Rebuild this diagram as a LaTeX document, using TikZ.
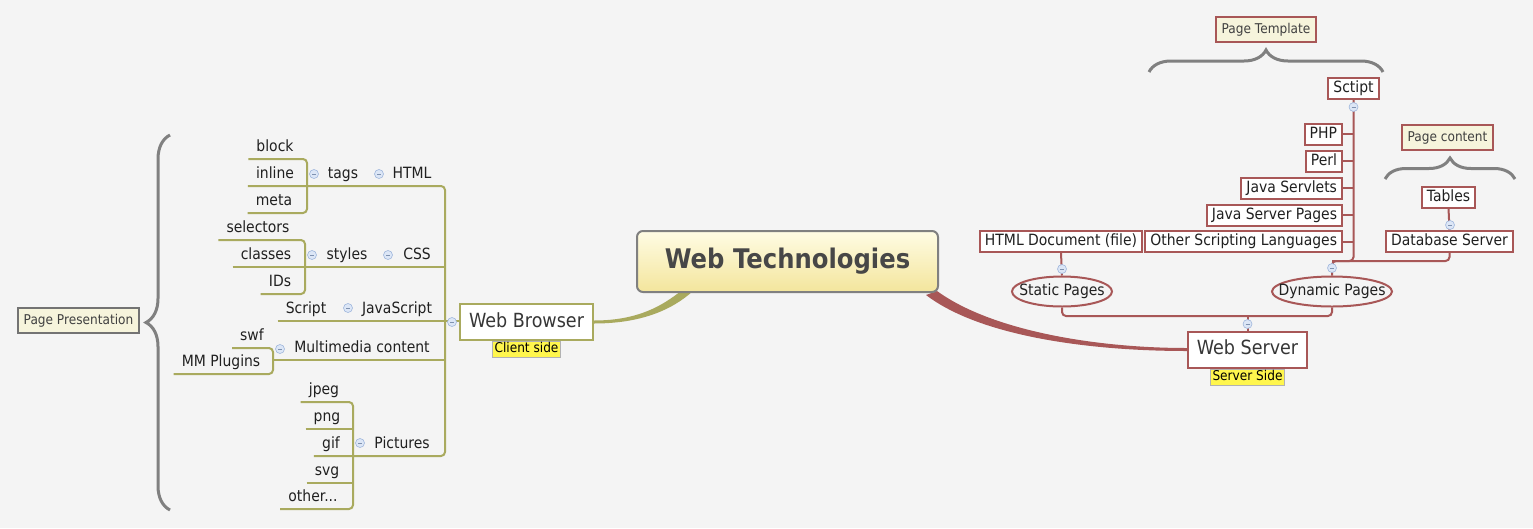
\documentclass[tikz,border=0pt]{standalone}
\usepackage{fontspec}
\setmainfont[FakeStretch=0.9]{DejaVu Sans}
\usetikzlibrary{positioning,calc,shapes.geometric,decorations.pathreplacing,backgrounds}
\definecolor{bgc}{HTML}{F4F4F4}
\definecolor{oliv}{HTML}{A9AA5E}
\definecolor{redd}{HTML}{A85757}
\definecolor{note}{HTML}{F6F4DC}
\definecolor{foldc}{HTML}{DCE6F6}
\definecolor{foldb}{HTML}{9FB6DC}
\definecolor{ink}{HTML}{202020}
\definecolor{gtop}{HTML}{FFFCE4}
\definecolor{gbot}{HTML}{F3E59C}

\begin{document}
\begin{tikzpicture}[x=1pt, y=-1pt,
        every node/.style={inner sep=0pt, text=ink},
        leaf/.style={anchor=south, inner xsep=8pt, inner ysep=3pt, text height=11pt, text depth=4pt,
          font=\fontsize{15.5}{18}\selectfont},
        rbox/.style={draw=redd, line width=2pt, fill=white, inner xsep=5pt, inner ysep=3pt,
          text height=11.5pt, text depth=3.5pt, font=\fontsize{15.5}{18}\selectfont},
        oval/.style={ellipse, draw=redd, line width=2pt, minimum height=30pt,
          font=\fontsize{15.5}{18}\selectfont},
        topic/.style={draw=#1, line width=2pt, fill=white, inner xsep=9pt, inner ysep=8.5pt,
          text height=14.5pt, text depth=4.5pt, font=\fontsize{19.5}{22}\selectfont, text=ink!90},
        tag/.style={draw=black!30, line width=.6pt, fill=yellow!70!white, inner xsep=2pt, inner ysep=1.5pt,
          text height=10pt, text depth=3pt, font=\fontsize{13.5}{15}\selectfont, text=black},
        notebox/.style={draw=#1, line width=2pt, fill=note, inner xsep=6pt, inner ysep=6pt,
          text height=10pt, text depth=3pt, font=\fontsize{13.5}{15}\selectfont, text=black!75},
        fold/.style={circle, minimum size=9pt, draw=foldb, fill=foldc, line width=.6pt,
          path picture={\draw[foldb!80!black, line width=.7pt]
            ([xshift=-2pt]path picture bounding box.center) -- ([xshift=2pt]path picture bounding box.center);}},
        oline/.style={draw=oliv, line width=2pt, rounded corners=4pt},
        rline/.style={draw=redd, line width=2pt, rounded corners=4pt},
        curly/.style={draw=black!50, line width=3pt, decorate, decoration={brace, amplitude=#1}}
      ]
      \begin{pgfonlayer}{background}
        \fill [bgc] (0,0) rectangle (1533,528);
      \end{pgfonlayer}
      \useasboundingbox (0,0) rectangle (1533,528);

      \node (wt) [draw=black!50, line width=2pt, rounded corners=6pt, top color=gtop,
        bottom color=gbot, minimum width=301pt, minimum height=61pt,
        font=\fontsize{27}{30}\bfseries\selectfont, text=black!72] at (787.5,261.5) {Web Technologies};

      % client side
      \node (wb) [topic=oliv] at (526.5,322) {Web Browser};
      \node (cs) [tag, below=0pt of wb] {Client side};
      \node (html) [leaf] at (412,186) {HTML};
      \node (tags) [leaf] at (343,186) {tags};
      \node (block) [leaf] at (275,159) {block};
      \node (inline) [leaf] at (275,186) {inline};
      \node (meta) [leaf] at (274,213) {meta};
      \node (css) [leaf] at (417,267) {CSS};
      \node (styles) [leaf] at (347,267) {styles};
      \node (sel) [leaf] at (258,240) {selectors};
      \node (cls) [leaf] at (266,267) {classes};
      \node (ids) [leaf] at (280,294) {IDs};
      \node (js) [leaf] at (397,321) {JavaScript};
      \node (scr) [leaf] at (306,321) {Script};
      \node (mm) [leaf] at (362,360) {Multimedia content};
      \node (swf) [leaf] at (252,348) {swf};
      \node (plug) [leaf] at (221,374) {MM Plugins};
      \node (pic) [leaf] at (402,456) {Pictures};
      \node (jpeg) [leaf] at (324,402) {jpeg};
      \node (png) [leaf] at (327,429) {png};
      \node (gif) [leaf] at (331,456) {gif};
      \node (svg) [leaf] at (327,483) {svg};
      \node (other) [leaf] at (313,509) {other...};

      \coordinate (spine) at (445,322);
      \coordinate (tagk) at (307,186);
      \coordinate (stylk) at (305,267);
      \coordinate (mmk) at (273,360);
      \coordinate (pick) at (353,456);

      \path [oline] (inline.south west) -| (spine) |- (gif.south west);
      \path [oline] (block.south west) -| (tagk) |- (meta.south west);
      \path [oline] (sel.south west) -| (stylk) |- (ids.south west);
      \path [oline] (cls.south west) -- (cls.south -| spine);
      \path [oline] (scr.south west) -- (scr.south -| wb.west);
      \path [oline] (swf.south west) -| (mmk) |- (plug.south west);
      \path [oline] (mmk) -- (mmk -| spine);
      \path [oline] (jpeg.south west) -| (pick) |- (other.south west);
      \path [oline] (png.south west) -- (png.south -| pick);
      \path [oline] (svg.south west) -- (svg.south -| pick);

      \node (f1) [fold] at (452,322) {};
      \node (f2) [fold] at (379,174) {};
      \node (f3) [fold] at (314,174) {};
      \node (f4) [fold] at (388,255) {};
      \node (f5) [fold] at (312,255) {};
      \node (f6) [fold] at (348,308) {};
      \node (f7) [fold] at (280,349) {};
      \node (f8) [fold] at (360,443) {};

      \node (pp) [notebox=black!55] at (78.5,320.5) {Page Presentation};
      \path [curly=24pt] (170,510) -- (170,135);

      % server side
      \node (ws) [topic=redd] at (1247.5,349.5) {Web Server};
      \node (ss) [tag, below=0pt of ws] {Server Side};
      \node (static) [oval, minimum width=100pt] at (1062,291.5) {\makebox[0pt]{Static Pages}};
      \node (dyn) [oval, minimum width=120pt] at (1332,291.5) {\makebox[0pt]{Dynamic Pages}};
      \node (hdoc) [rbox] at (1061,241.5) {HTML Document (file)};
      \node (sct) [rbox] at (1353.5,88.5) {Sctipt};
      \node (php) [rbox, anchor=east] at (1343,134) {PHP};
      \node (perl) [rbox, anchor=east] at (1343,161) {Perl};
      \node (jsv) [rbox, anchor=east] at (1343,188) {Java Servlets};
      \node (jsp) [rbox, anchor=east] at (1343,215) {Java Server Pages};
      \node (osl) [rbox, anchor=east] at (1343,241.5) {Other Scripting Languages};
      \node (tab) [rbox] at (1448.5,197) {Tables};
      \node (db) [rbox] at (1449.5,241.5) {Database Server};

      \coordinate (srvk) at (1247.5,316);
      \coordinate (dynk) at (1332,261);

      \begin{pgfonlayer}{background}
        \path [rline] (static.south) |- (srvk) -| (dyn.south);
        \path [rline] (srvk) -- (ws.north);
        \path [rline] (hdoc.south) -- (static.north);
        \path [rline] (dyn.north) -- (dynk) -| (db.south);
        \path [rline] (dynk) -| (sct.south);
        \path [rline] (tab.south) -- (db.north);
        \foreach \n in {php,perl,jsv,jsp,osl}
          \path [rline] (\n.east) -- (\n.east -| sct.south);

        \fill [oliv] ([yshift=1.5pt]wb.east) .. controls +(45,0) and +(-18,14) .. ($(wt.south west)+(45,-2)$)
          -- ($(wt.south west)+(57,-2)$) .. controls +(-22,20) and +(45,0) .. ([yshift=-1.5pt]wb.east) -- cycle;
        \fill [redd] ($(wt.south east)+(-2,-2)$) .. controls +(55,40) and +(-90,0) .. ([yshift=1.5pt]ws.west)
          -- ([yshift=-1.5pt]ws.west) .. controls +(-95,0) and +(55,42) .. ($(wt.south east)+(-13,2)$) -- cycle;
      \end{pgfonlayer}

      \node (f9) [fold] at (1062,269) {};
      \node (f10) [fold] at (1332,268) {};
      \node (f11) [fold] at (1247.5,324) {};
      \node (f12) [fold] at (1353.5,107) {};
      \node (f13) [fold] at (1450,225) {};

      \node (ptpl) [notebox=redd] at (1266,29.5) {Page Template};
      \path [curly=22pt] (1149,72) -- (1383,72);
      \node (pcnt) [notebox=redd] at (1447.5,137.5) {Page content};
      \path [curly=21pt] (1385,179) -- (1515,179);
    \end{tikzpicture}
\end{document}
